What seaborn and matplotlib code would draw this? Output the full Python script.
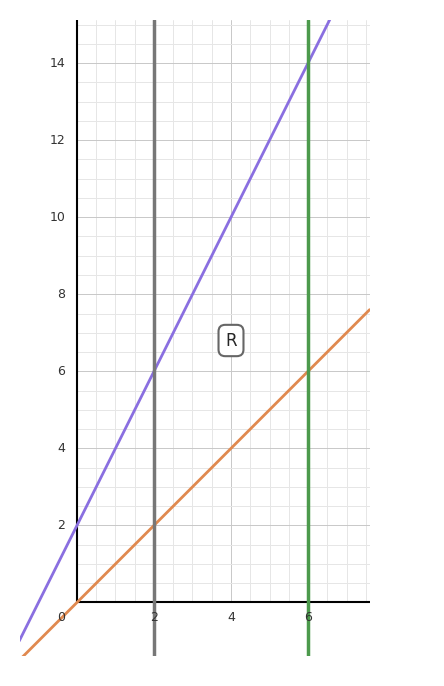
import matplotlib
matplotlib.use("Agg")
import matplotlib.pyplot as plt
import seaborn as sns
import numpy as np
import pandas as pd

sns.set_style("white")
plt.rcParams['font.family'] = ['DejaVu Sans']

x_line = [-1.5, 7.6]
purple_slope, purple_int = 2, 2
orange_slope, orange_int = 1, 0
vert_gray = 2
vert_green = 6
xticks = [2, 4, 6]
yticks = [2, 4, 6, 8, 10, 12, 14]
label_pos = (4, 6.8)
label_text = "R"

fig = plt.figure(figsize=(4.44, 6.86), dpi=100)
ax = fig.add_axes([20/444, 30/686, 350/444, 636/686])
xmin, xmax, ymin, ymax = -1.48, 7.61, -1.39, 15.12
ax.set_xlim(xmin, xmax); ax.set_ylim(ymin, ymax)
for s in ax.spines.values():
    s.set_visible(False)
ax.set_xticks([]); ax.set_yticks([])

# grid only in first quadrant
for v in np.arange(0.5, xmax, 0.5):
    ax.plot([v, v], [0, ymax], color='#e6e6e6' if v % 2 else '#c8c8c8', lw=0.7, zorder=0)
for v in np.arange(0.5, ymax, 0.5):
    ax.plot([0, xmax], [v, v], color='#e6e6e6' if v % 2 else '#c8c8c8', lw=0.7, zorder=0)
ax.plot([0, 0], [0, ymax], color='black', lw=1.5, zorder=1)
ax.plot([0, xmax], [0, 0], color='black', lw=1.5, zorder=1)

df = pd.DataFrame({'x': x_line})
df['p'] = purple_slope * df['x'] + purple_int
df['o'] = orange_slope * df['x'] + orange_int
sns.lineplot(data=df, x='x', y='p', color='#8a6fe0', lw=2, ax=ax, zorder=3)
sns.lineplot(data=df, x='x', y='o', color='#e0894f', lw=2, ax=ax, zorder=3)
ax.axvline(vert_gray, color='#777777', lw=2.5, zorder=3)
ax.axvline(vert_green, color='#4c9a4c', lw=2.5, zorder=3)
ax.set_xlabel(''); ax.set_ylabel('')

for t in yticks:
    ax.text(-0.3, t, str(t), ha='right', va='center', fontsize=9, color='#333333')
for t in xticks:
    ax.text(t, -0.38, str(t), ha='center', va='center', fontsize=9, color='#333333')
ax.text(-0.3, -0.38, '0', ha='right', va='center', fontsize=9, color='#333333')

ax.text(*label_pos, label_text, ha='center', va='center', fontsize=12, zorder=5,
        bbox=dict(boxstyle='round,pad=0.4', fc='white', ec='#666666', lw=1.5))

fig.savefig('out.png', dpi=100)
